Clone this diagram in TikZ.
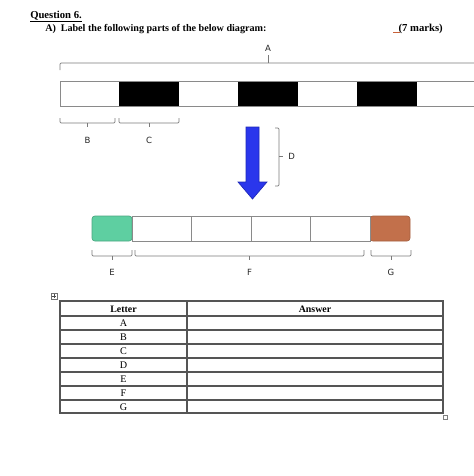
\documentclass[tikz,border=0pt]{standalone}
\usepackage{fontspec}
\setmainfont{Liberation Serif}
\newfontfamily\labfont{DejaVu Sans}
\definecolor{stripgray}{HTML}{8A8A8A}
\definecolor{brgray}{HTML}{7A7A7A}
\definecolor{tabgray}{HTML}{555555}
\definecolor{arrowblue}{HTML}{2A36EC}
\definecolor{arrowedge}{HTML}{1E28B8}
\definecolor{cellgreen}{HTML}{5ECFA1}
\definecolor{cellbrown}{HTML}{C2704B}
\definecolor{spellred}{HTML}{C8623A}
\begin{document}
\begin{tikzpicture}[x=0.75pt,y=-0.75pt,
  stripline/.style={draw=stripgray,line width=0.7pt},
  brline/.style={draw=brgray,line width=0.55pt,rounded corners=0.8pt},
  lab/.style={font=\labfont\fontsize{6.4}{7}\selectfont,inner sep=0pt,text=black!85},
  head/.style={font=\bfseries\fontsize{8}{9}\selectfont,inner sep=0pt},
  tabtext/.style={font=\fontsize{7.6}{8}\selectfont,inner sep=0pt},
  tabhead/.style={font=\bfseries\fontsize{7.4}{8}\selectfont,inner sep=0pt},
  tabline/.style={draw=tabgray,line width=0.9pt}]
\useasboundingbox (0,0) rectangle (474,476);
\fill[white] (0,0) rectangle (474,476);

% heading
\node[head,anchor=base west] (q) at (30,18) {\underline{Question 6.}};
\node[head,anchor=base west,font=\bfseries\fontsize{7.6}{9}\selectfont] (qa) at (45,31) {A)\hspace{3.6pt}Label the following parts of the below diagram:};
\node[head,anchor=base east] (marks) at (443,31) {(7 marks)};
\coordinate (ul1) at (393,32.5);
\coordinate (ul2) at (400,32.5);
\draw[spellred,line width=0.9pt] (ul1) -- (ul2);

% top strip
\begin{scope}
\clip (0,0) rectangle (474,476);
\fill[black] (119,81) rectangle (179,106);
\fill[black] (238,81) rectangle (298,106);
\fill[black] (357,81) rectangle (417,106);
\draw[stripline] (60,81) rectangle (480,106);
\draw[brline] (60,70) -- (60,63) -- (480,63);
\end{scope}
\coordinate (a0) at (268,63);
\coordinate (a1) at (268,55);
\draw[brline] (a0) -- (a1);
\node[lab] (A) at (268,48) {A};

% bracket B
\draw[brline] (60,118) -- (60,123) -- (115,123) -- (115,118);
\coordinate (b0) at (87.5,123);
\coordinate (b1) at (87.5,127);
\draw[brline] (b0) -- (b1);
\node[lab] (B) at (87.5,140) {B};

% bracket C
\draw[brline] (119,118) -- (119,123) -- (179,123) -- (179,118);
\coordinate (c0) at (149,123);
\coordinate (c1) at (149,127);
\draw[brline] (c0) -- (c1);
\node[lab] (C) at (149,140) {C};

% arrow
\draw[fill=arrowblue,draw=arrowedge,line width=0.5pt]
  (246,127) -- (259,127) -- (259,182) -- (267,182) -- (252.5,199) -- (238,182) -- (246,182) -- cycle;

% bracket D
\draw[brline] (275,128) -- (279,128) -- (279,186) -- (275,186);
\coordinate (d0) at (279,156);
\coordinate (d1) at (283,156);
\draw[brline] (d0) -- (d1);
\node[lab,anchor=west] (D) at (288,156) {D};

% bottom strip
\draw[fill=cellgreen,draw=cellgreen!80!black,line width=0.5pt,rounded corners=2.2pt] (92,216) rectangle (132,241);
\draw[fill=cellbrown,draw=cellbrown!85!black,line width=0.5pt,rounded corners=2.2pt] (370,216) rectangle (410,241);
\draw[stripline,fill=white] (132,216) rectangle (370,241);
\draw[stripline] (191,216) -- (191,241);
\draw[stripline] (251,216) -- (251,241);
\draw[stripline] (310,216) -- (310,241);

% brackets E F G
\draw[brline] (92,250) -- (92,256) -- (132,256) -- (132,250);
\coordinate (e0) at (112,256);
\coordinate (e1) at (112,260);
\draw[brline] (e0) -- (e1);
\node[lab] (E) at (112,272) {E};

\draw[brline] (135,250) -- (135,256) -- (364,256) -- (364,250);
\coordinate (f0) at (249.5,256);
\coordinate (f1) at (249.5,260);
\draw[brline] (f0) -- (f1);
\node[lab] (F) at (249.5,272) {F};

\draw[brline] (371,250) -- (371,256) -- (411,256) -- (411,250);
\coordinate (g0) at (391,256);
\coordinate (g1) at (391,260);
\draw[brline] (g0) -- (g1);
\node[lab] (G) at (391,272) {G};

% table
\draw[draw=black!55,line width=0.4pt,fill=white] (51,293) rectangle (57.5,299.5);
\draw[black!70,line width=0.4pt] (54.25,294.3) -- (54.25,298.2);
\draw[black!70,line width=0.4pt] (52.3,296.25) -- (56.2,296.25);

\draw[tabline] (60,301) rectangle (443,413);
\foreach \yy in {316,330,344,358,372,386,400} {\draw[tabline] (60,\yy) -- (443,\yy);}
\draw[tabline] (187,301) -- (187,413);

\node[tabhead] (hl) at (123.5,309) {Letter};
\node[tabhead] (ha) at (315,309) {Answer};
\node[tabtext] (rA) at (123.5,323.5) {A};
\node[tabtext] (rB) at (123.5,337.5) {B};
\node[tabtext] (rC) at (123.5,351.5) {C};
\node[tabtext] (rD) at (123.5,365.5) {D};
\node[tabtext] (rE) at (123.5,379.5) {E};
\node[tabtext] (rF) at (123.5,393.5) {F};
\node[tabtext] (rG) at (123.5,407) {G};

\draw[draw=black!50,line width=0.4pt,fill=white] (443.5,415.5) rectangle (447,419);
\end{tikzpicture}
\end{document}
